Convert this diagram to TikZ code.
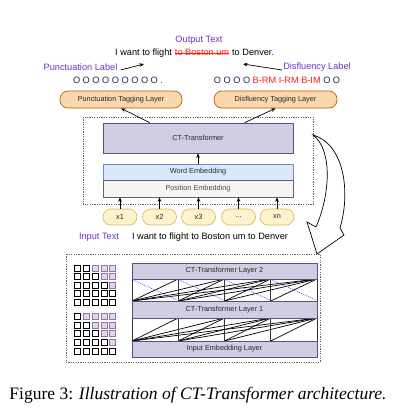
\documentclass[tikz,border=0pt]{standalone}
\usepackage{fontspec}
\setmainfont{Liberation Sans}
\newfontfamily\capfont{Liberation Serif}
\usetikzlibrary{arrows.meta,calc}
\definecolor{lblpurple}{RGB}{110,50,200}
\definecolor{redtxt}{RGB}{255,30,30}
\definecolor{otxt}{RGB}{30,40,85}
\definecolor{tagfill}{HTML}{FAD7AC}
\definecolor{tagdraw}{HTML}{B46504}
\definecolor{tokfill}{HTML}{FFF2CC}
\definecolor{tokdraw}{HTML}{D6B656}
\definecolor{ctfill}{HTML}{D0CEE2}
\definecolor{ctdraw}{HTML}{56517E}
\definecolor{wefill}{HTML}{DAE8FC}
\definecolor{wedraw}{HTML}{6C8EBF}
\definecolor{pefill}{HTML}{F5F5F5}
\definecolor{pedraw}{HTML}{666666}
\definecolor{sqfill}{HTML}{E1D5E7}
\definecolor{sqdraw}{HTML}{9673A6}
\definecolor{attblue}{RGB}{70,70,255}
\tikzset{
  toptext/.style={inner sep=0pt,font=\fontsize{9.2}{11}\selectfont},
  boxtext/.style={font=\fontsize{7.3}{9}\selectfont,text=black!85},
  tagbox/.style={draw=tagdraw,fill=tagfill,rounded corners=8pt,minimum height=17pt,inner sep=0pt,boxtext,line width=0.7pt},
  tokbox/.style={draw=tokdraw,fill=tokfill,rounded corners=8pt,minimum width=34pt,minimum height=16pt,inner sep=0pt,boxtext,line width=0.6pt},
  ctbox/.style={draw=ctdraw,fill=ctfill,minimum width=190pt,inner sep=0pt,boxtext,line width=0.7pt},
  webox/.style={draw=wedraw,fill=wefill,minimum width=190pt,minimum height=16pt,inner sep=0pt,boxtext,line width=0.6pt},
  pebox/.style={draw=pedraw,fill=pefill,minimum width=190pt,minimum height=17pt,inner sep=0pt,boxtext,text=black!70,line width=0.6pt},
  layerbox/.style={draw=ctdraw,fill=ctfill,minimum width=185pt,inner sep=0pt,boxtext,line width=0.7pt},
  dashbox/.style={draw=black!60,dash pattern=on 1.2pt off 1.2pt,line width=0.6pt},
  arr/.style={-{Stealth[length=4.5pt,width=3.6pt]},line width=0.7pt},
  attline/.style={line width=0.7pt},
  attdot/.style={attblue,dash pattern=on 1pt off 1pt,line width=0.6pt},
  wsq/.style={draw=black,fill=white,line width=0.7pt},
  psq/.style={draw=sqdraw,fill=sqfill,line width=0.6pt},
}
\begin{document}
\begin{tikzpicture}[x=1pt,y=-1pt]
\useasboundingbox (0,0) rectangle (400,420);
\fill[white] (0,0) rectangle (400,420);

% ---------- top labels ----------
\node[toptext,text=lblpurple] (outt) at (199,40) {Output Text};
\node[toptext,anchor=base west] (s1) at (115,56) {I want to flight\strut};
\node[toptext,anchor=base west,text=redtxt] (s2) at ($(s1.base east)+(2.6,0)$) {to Boston um\strut};
\node[toptext,anchor=base west] (s3) at ($(s2.base east)+(2.6,0)$) {to Denver.\strut};
\draw[redtxt,line width=0.7pt] ($(s2.base west)+(0,-3)$) -- ($(s2.base east)+(0,-3)$);
\node[toptext,text=lblpurple] (pl) at (80.5,67) {Punctuation Label};
\coordinate (pa) at (144,64);
\draw[arr] ($(pl.east)+(3,3)$) -- (pa);
\node[toptext,text=otxt] (plab) at (118,80) {O O O O O O O O O .};
\node[toptext,text=lblpurple] (dl) at (317,67) {Disfluency Label};
\coordinate (da) at (243,64);
\draw[arr] ($(dl.west)+(-1,3)$) -- (da);
\node[toptext,text=otxt] (dlab) at (277,80) {O O O O \textcolor{redtxt}{B-RM I-RM B-IM} O O};

% ---------- tagging layers ----------
\node[tagbox,minimum width=122pt] (pt) at (121,99.5) {Punctuation Tagging Layer};
\node[tagbox,minimum width=123pt] (dt) at (275.5,99.5) {Disfluency Tagging Layer};

% ---------- upper block ----------
\draw[dashbox] (83,117) rectangle (313,204);
\node[ctbox,minimum height=30pt] (ct) at (198,138) {CT-Transformer};
\node[webox] (we) at (198,172) {Word Embedding};
\node[pebox] (pe) at (198,188.5) {Position Embedding};
\draw[arr] (we.north) -- (ct.south);
\draw[arr] ($(ct.north west)+(47,0)$) -- (pt.south);
\draw[arr] ($(ct.north west)+(142,0)$) -- (dt.south);

\node[tokbox] (t1) at (120,217) {x1};
\node[tokbox] (t2) at (159.5,217) {x2};
\node[tokbox] (t3) at (198.5,217) {x3};
\node[tokbox] (t4) at (238.5,217) {...};
\node[tokbox] (t5) at (277,217) {xn};
\foreach \t in {t1,t2,t3,t4,t5}{
  \draw[arr] (\t.north) -- (\t.north |- pe.south);
}
\node[toptext,text=lblpurple] (itl) at (99,237) {Input Text};
\node[toptext] (its) at (210,237) {I want to flight to Boston um to Denver};

% ---------- big curved arrow ----------
\draw[fill=white,line width=0.7pt,line join=miter]
  (313,135) .. controls (346,145) and (350,195) .. (340,228)
  -- (344,235) -- (317,254) -- (307,222) -- (316,227)
  .. controls (330,195) and (333,150) .. (313,135) -- cycle;

% ---------- lower block ----------
\draw[dashbox] (66,254) rectangle (320,362);

% attention regions
\foreach \yt/\yb in {279/301, 318/341}{
  \fill[white] (132,\yt) rectangle (317,\yb);
  \foreach \i in {0,1,2,3}{
    \foreach \j in {1,2,3,4}{
      \ifnum\j>\i
        \draw[attline] ({132+46.25*\i},\yb) -- ({132+46.25*\j},\yt);
      \fi
    }
  }
  \foreach \i in {0,1,2,3,4}{
    \draw[line width=0.8pt,black!80] ({132+46.25*\i},\yt) -- ({132+46.25*\i},\yb);
  }
}
\foreach \i in {0,1,2,3}{
  \draw[attdot] ({133+46.25*\i},280) -- ({131+46.25*(\i+1)},300);
}

\node[layerbox,minimum height=16pt] (l2) at (224.5,271) {CT-Transformer Layer 2};
\node[layerbox,minimum height=17pt] (l1) at (224.5,309.5) {CT-Transformer Layer 1};
\node[layerbox,minimum height=16pt] (ie) at (224.5,349) {Input Embedding Layer};

% squares
\foreach \g/\yo in {1/265, 2/313.5}{
  \foreach \r in {0,1,2,3,4}{
    \foreach \c in {0,1,2,3,4}{
      \pgfmathtruncatemacro{\lim}{\g==1 ? \r+2 : \r+1}
      \pgfmathsetmacro{\xx}{74.5+8.8*\c}
      \pgfmathsetmacro{\yy}{\yo+8.6*\r}
      \ifnum\c<\lim
        \draw[wsq] (\xx,\yy) rectangle ++(6,6);
      \else
        \draw[psq] (\xx,\yy) rectangle ++(6,6);
      \fi
    }
  }
}

% ---------- caption ----------
\node[inner sep=0pt,font=\capfont\fontsize{17.5}{20}\selectfont] (cap) at (198,395) {Figure 3: \textit{Illustration of CT-Transformer architecture.}};
\end{tikzpicture}
\end{document}
